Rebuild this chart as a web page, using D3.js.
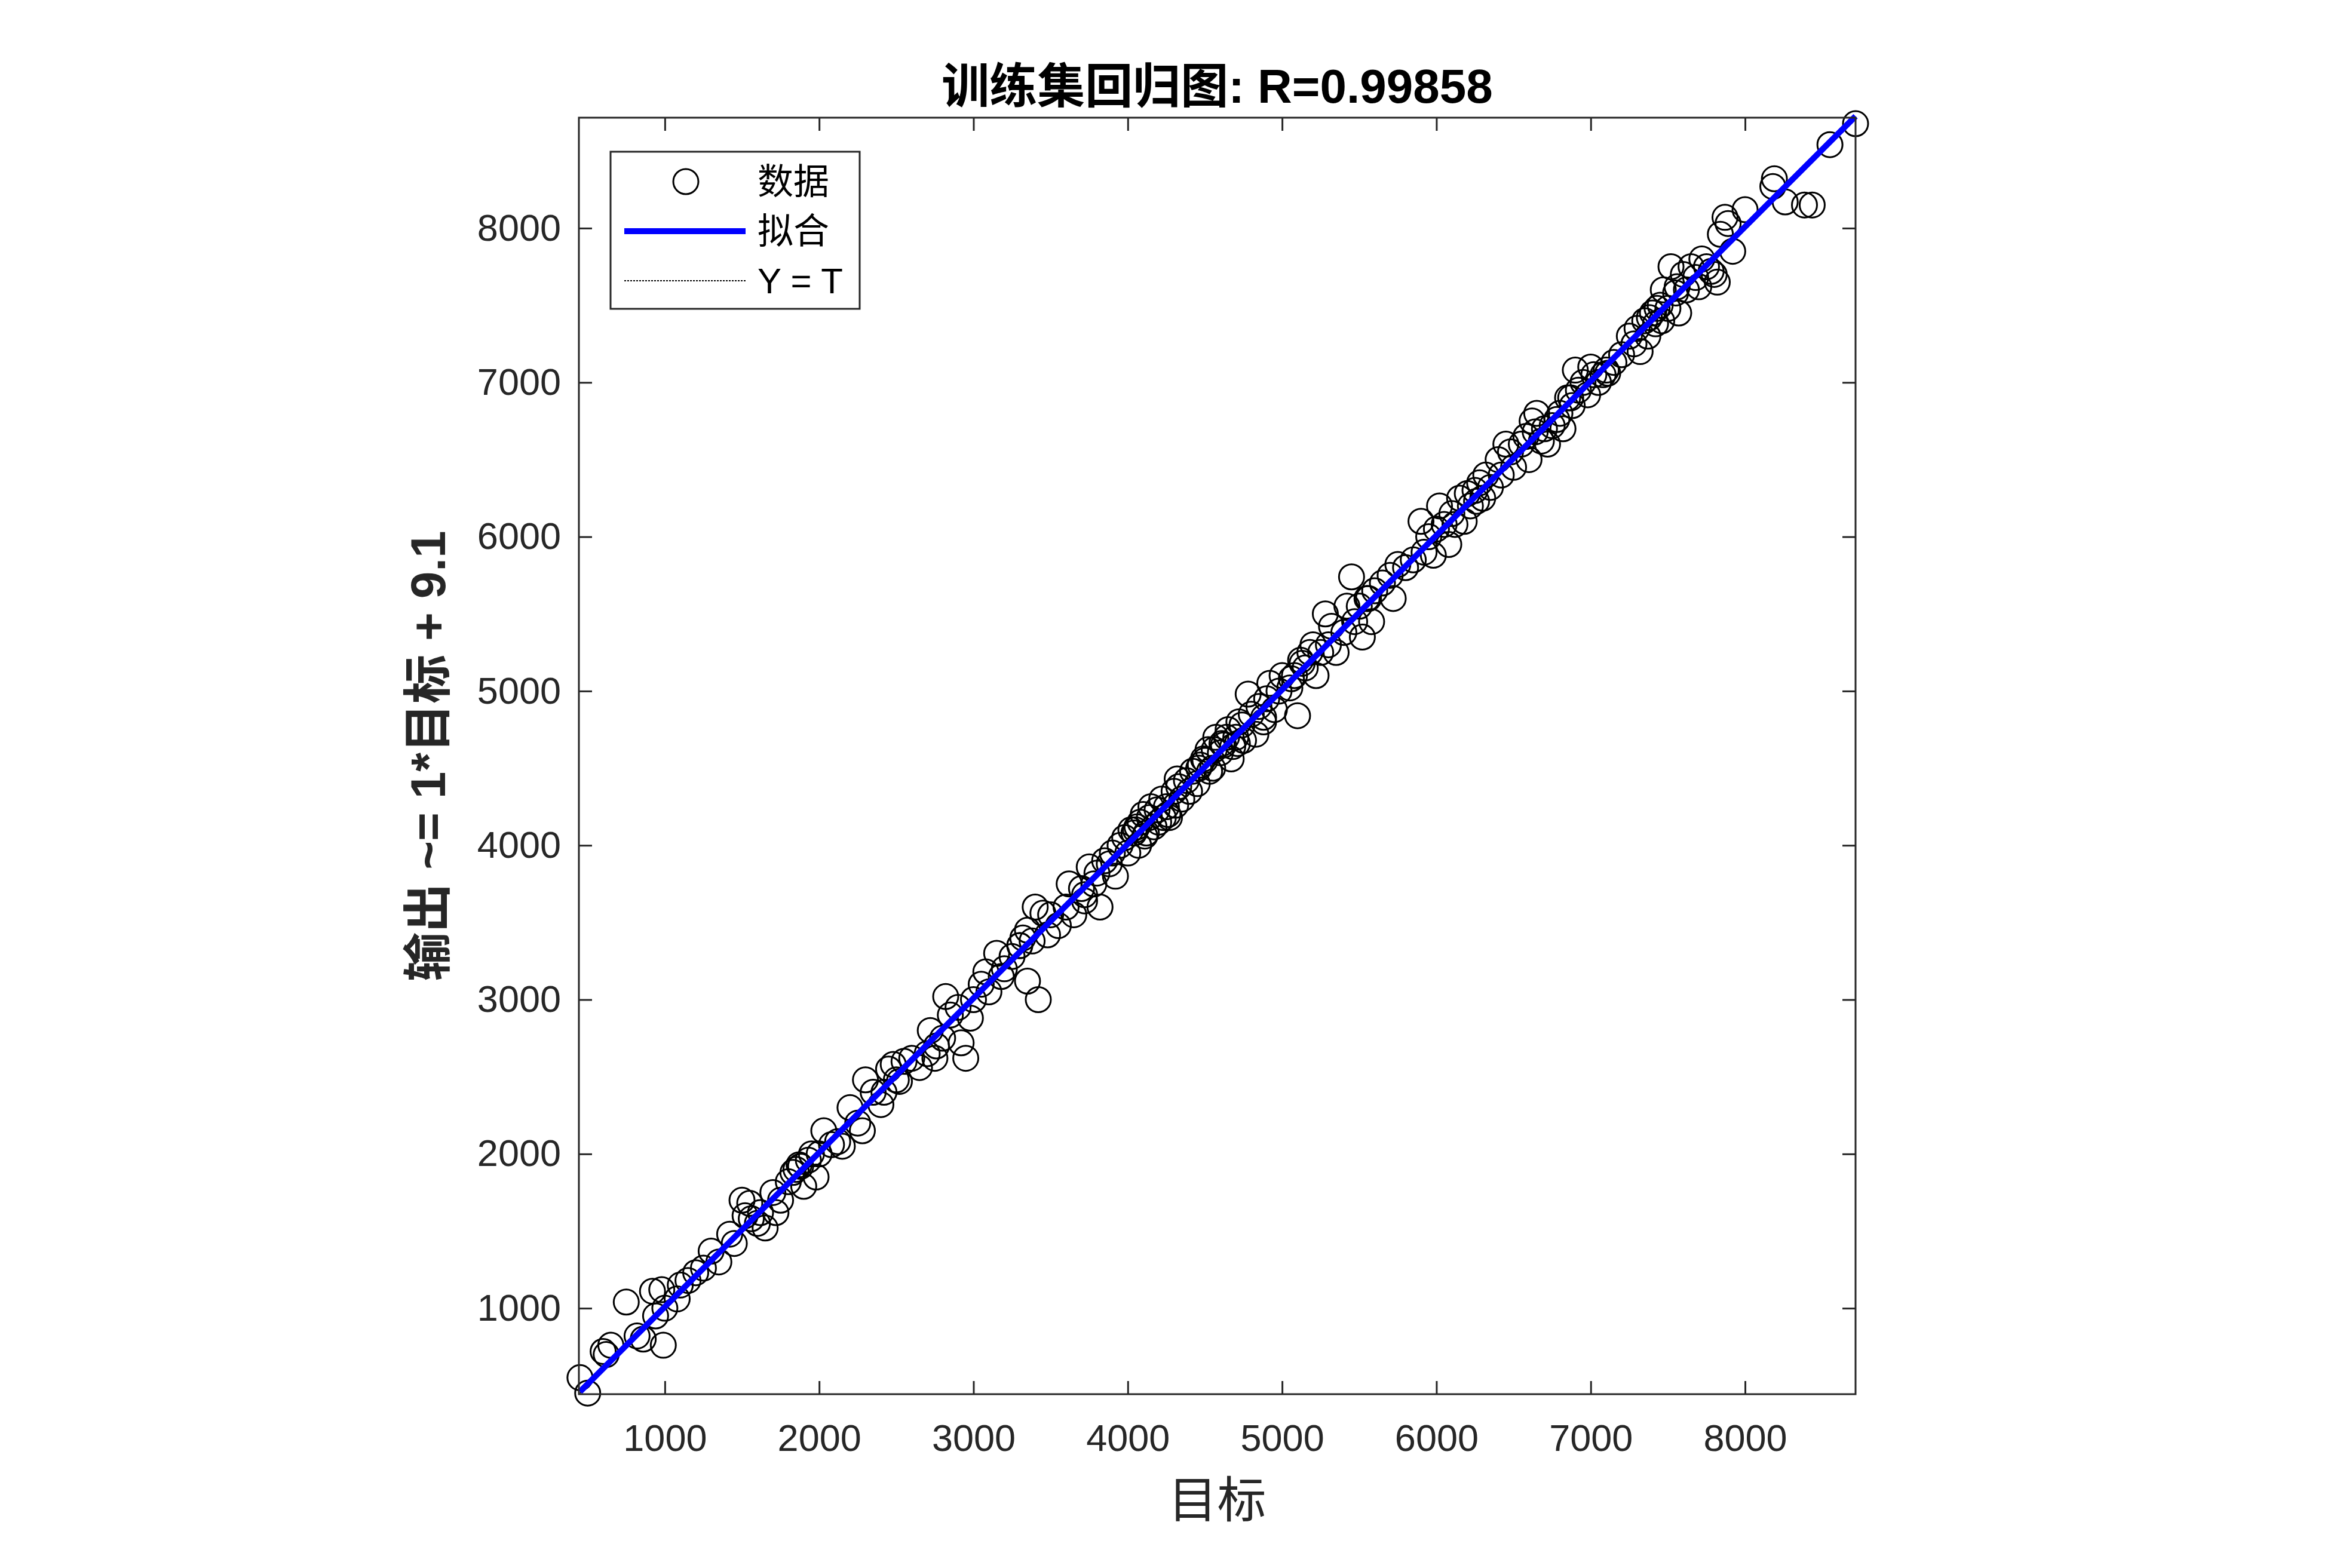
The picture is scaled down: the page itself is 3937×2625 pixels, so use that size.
<!DOCTYPE html>
<html><head><meta charset="utf-8">
<script src="https://cdn.jsdelivr.net/npm/d3@7/dist/d3.min.js"></script>
<style>body{margin:0;background:#fff}</style>
</head><body>
<svg id="c" width="3937" height="2625"></svg>
<script>
const targets = [450,500,600,650,620,750,820,860,920,980,940,990,1000,1080,1100,1150,1200,1250,1300,1350,1420,1450,
1500,1550,1520,1560,1600,1620,1650,1700,1720,1750,1800,1830,1850,1870,1900,1930,1950,1980,2000,2030,2080,2120,2150,2200,2250,2280,2300,2350,2400,2420,2450,2480,2500,2550,2600,2650,2700,2720,2750,2800,2820,2850,2900,2920,2950,2980,
3000,3050,3080,3100,3150,3180,3200,3250,3300,3320,3350,3380,3400,3420,3350,3450,3480,3500,3550,3600,3620,3650,3700,3720,3750,3780,3800,3820,3850,3880,3900,3920,3950,3980,
4000,4020,4050,4070,4080,4100,4120,4150,4170,4200,4220,4250,4270,4300,4320,4350,4380,4400,4420,4450,4470,4500,4520,4550,4570,4600,4620,4650,4670,4700,4720,4750,4780,4800,4830,4850,4880,4900,4920,4950,4980,
4040,4110,4190,4260,4330,4460,4530,4610,4680,4740,4060,4140,4230,4310,4560,4640,4710,
5000,5050,5080,5100,5120,5150,5180,5200,5220,5250,5280,5300,5320,5350,5400,5420,5450,5470,5500,5520,5550,5580,5600,5650,5700,5720,5750,5800,5850,5900,5920,5950,5980,
6000,6020,6050,6080,6100,6150,6180,6200,6220,6250,6280,6300,6320,6350,6400,6420,6450,6480,6500,6550,6580,6600,6620,6650,6680,6700,6720,6750,6800,6820,6850,6880,6900,6920,6950,6980,
7000,7020,7050,7080,7100,7150,7200,7250,7280,7300,7320,7350,7370,7400,7420,7450,7470,7500,7520,7550,7570,7600,7620,7650,7680,7700,7720,7750,7780,7800,7820,7840,7870,7890,7920,8000,8180,8190,8260,8385,8435,8550,8716,
7380,7430,7460,6870,6780,6640,6260,5130,5060,4490,1880,2520,2760,3720,3300,4880,5560,6120,7110,7560];
const outputs = [550,450,720,760,700,1040,820,800,1110,1120,950,760,1000,1060,1150,1180,1230,1260,1370,1300,1480,1420,
1700,1680,1600,1580,1550,1620,1520,1750,1620,1700,1820,1880,1900,1930,1790,1960,2000,1850,2000,2150,2060,2080,2050,2300,2200,2150,2480,2400,2320,2400,2550,2580,2480,2600,2620,2560,2650,2800,2620,2750,3020,2900,2950,2720,2620,2880,
3000,3100,3180,3050,3300,3150,3200,3280,3350,3400,3450,3380,3600,3000,3120,3560,3420,3550,3480,3600,3750,3550,3720,3640,3860,3750,3820,3600,3900,3880,3950,3800,4000,4050,
3950,4100,4100,4000,4150,4200,4080,4250,4120,4150,4300,4250,4180,4350,4430,4300,4420,4350,4480,4400,4520,4550,4620,4500,4700,4600,4650,4750,4560,4700,4800,4680,4980,4850,4720,4900,4800,4950,5050,4880,5000,
4080,4060,4230,4200,4380,4500,4480,4660,4640,4780,4120,4180,4180,4260,4620,4700,4660,
5100,5020,5100,4840,5200,5150,5250,5300,5100,5250,5500,5300,5420,5250,5380,5550,5740,5450,5550,5350,5600,5450,5650,5700,5750,5600,5820,5800,5850,6100,5900,6000,5880,
6050,6200,6080,5950,6150,6250,6100,6280,6200,6300,6350,6250,6400,6320,6500,6400,6600,6550,6450,6600,6650,6500,6750,6800,6620,6700,6600,6720,6800,6700,6900,6850,7080,6950,7000,6920,
7100,7050,7000,7050,7080,7130,7180,7300,7250,7350,7200,7400,7300,7450,7380,7500,7600,7480,7750,7580,7450,7700,7600,7750,7680,7620,7800,7750,7720,7700,7650,7960,8070,8030,7850,8120,8270,8320,8170,8150,8150,8541,8677,
7420,7480,7400,6900,6760,6680,6230,5180,5080,4560,1920,2470,2700,3680,3350,4830,5600,6080,7060,7620];
const fitIntercept = 9.1, fitSlope = 1;
const xTicks = [1000,2000,3000,4000,5000,6000,7000,8000];
const yTicks = [1000,2000,3000,4000,5000,6000,7000,8000];

const svg = d3.select('#c');
const L=969, R=3106, T=197, B=2334;
const x = d3.scaleLinear().domain([443,8716]).range([L,R]);
const y = d3.scaleLinear().domain([443,8716]).range([B,T]);
const font = '"Liberation Sans", Arial, sans-serif';
const cjk = '"Liberation Sans","Noto Sans CJK SC", sans-serif';
const fmt = d3.format('d');

const pts = targets.map((t,i)=>[t,outputs[i]]);
const tmin=d3.min(targets), tmax=d3.max(targets);
svg.append('line').attr('x1',x(tmin)).attr('y1',y(tmin)).attr('x2',x(tmax)).attr('y2',y(tmax))
  .attr('stroke','#000').attr('stroke-width',2).attr('stroke-dasharray','3,3');
svg.selectAll('circle.p').data(pts).join('circle').attr('class','p')
  .attr('cx',d=>x(d[0])).attr('cy',d=>y(d[1])).attr('r',21)
  .attr('fill','none').attr('stroke','#000').attr('stroke-width',3);
svg.append('line').attr('x1',x(tmin)).attr('y1',y(fitSlope*tmin+fitIntercept))
  .attr('x2',x(tmax)).attr('y2',y(fitSlope*tmax+fitIntercept))
  .attr('stroke','#0000ff').attr('stroke-width',10);

const ax = (g,a)=>g.call(a).call(s=>s.select('.domain').remove());
const tk=22;
ax(svg.append('g').attr('transform',`translate(0,${B})`), d3.axisBottom(x).tickValues(xTicks).tickSize(-tk).tickPadding(50).tickFormat(fmt));
ax(svg.append('g').attr('transform',`translate(0,${T})`), d3.axisTop(x).tickValues(xTicks).tickSize(-tk).tickFormat(''));
ax(svg.append('g').attr('transform',`translate(${L},0)`), d3.axisLeft(y).tickValues(yTicks).tickSize(-tk).tickPadding(30).tickFormat(fmt));
ax(svg.append('g').attr('transform',`translate(${R},0)`), d3.axisRight(y).tickValues(yTicks).tickSize(-tk).tickFormat(''));
svg.selectAll('.tick line').attr('stroke','#262626').attr('stroke-width',3);
svg.selectAll('.tick text').attr('font-family',font).attr('font-size',63).attr('fill','#262626');
svg.append('rect').attr('x',L).attr('y',T).attr('width',R-L).attr('height',B-T)
  .attr('fill','none').attr('stroke','#262626').attr('stroke-width',3);

svg.append('text').attr('x',(L+R)/2).attr('y',172).attr('text-anchor','middle')
  .attr('font-family',cjk).attr('font-weight','bold').attr('font-size',80).text('训练集回归图: R=0.99858');
svg.append('text').attr('x',(L+R)/2).attr('y',2540).attr('text-anchor','middle')
  .attr('font-family',cjk).attr('font-size',82).attr('fill','#262626').text('目标');
svg.append('text').attr('transform',`translate(745,${(T+B)/2}) rotate(-90)`).attr('text-anchor','middle')
  .attr('font-family',cjk).attr('font-weight','bold').attr('font-size',82).attr('fill','#262626').text('输出 ~= 1*目标 + 9.1');

const lg = svg.append('g');
lg.append('rect').attr('x',1022).attr('y',254).attr('width',417).attr('height',263)
  .attr('fill','#fff').attr('stroke','#262626').attr('stroke-width',3);
lg.append('circle').attr('cx',1148).attr('cy',304).attr('r',21).attr('fill','none').attr('stroke','#000').attr('stroke-width',3);
lg.append('line').attr('x1',1045).attr('x2',1248).attr('y1',387).attr('y2',387).attr('stroke','#0000ff').attr('stroke-width',10);
lg.append('line').attr('x1',1045).attr('x2',1248).attr('y1',470).attr('y2',470).attr('stroke','#000').attr('stroke-width',2).attr('stroke-dasharray','3,2');
[['数据',304],['拟合',387],['Y = T',470]].forEach(([t,yy])=>
  lg.append('text').attr('x',1268).attr('y',yy).attr('dy','0.35em').attr('font-family',cjk).attr('font-size',60).text(t));
</script>
</body></html>
